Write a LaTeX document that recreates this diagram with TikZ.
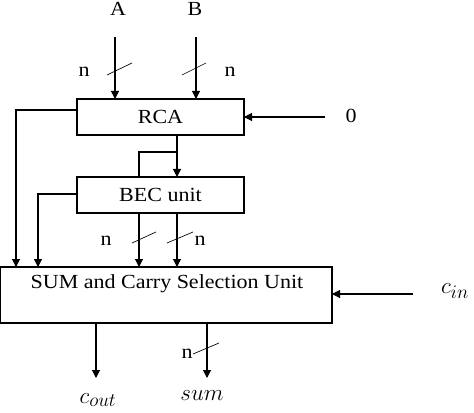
\documentclass[tikz,border=0pt]{standalone}
\usepackage{fontspec}
\setmainfont{Liberation Serif}[FakeStretch=1.1]
\DeclareMathSizes{18}{18}{14}{11}
\usetikzlibrary{arrows.meta}

\tikzset{
  block/.style={draw, line width=0.9pt, outer sep=0pt, inner sep=0pt},
  wire/.style={line width=0.8pt, -{Triangle[length=6pt,width=6pt]}},
  line/.style={line width=0.8pt},
  slash/.style={line width=0.5pt},
  sig/.style={font=\fontsize{18}{20}\selectfont}
}

\begin{document}
\begin{tikzpicture}[x=0.75pt, y=-0.75pt, font=\fontsize{15}{17}\selectfont]
    \useasboundingbox (0,0) rectangle (474,413);

    % Blocks
    \node[block, minimum width=125.25pt, minimum height=27pt] (rca) at (160.5,117) {RCA};
    \node[block, minimum width=125.25pt, minimum height=27pt] (bec) at (160.5,195) {BEC unit};
    \node[block, minimum width=249pt, minimum height=42pt] (sel) at (166,295) {};
    \node (seltxt) at (167,284) {SUM and Carry Selection Unit};

    % Inputs
    \node (labA) at (118,9) {A};
    \node (labB) at (195,9) {B};
    \node (zlab) at (351,116) {0};
    \node[sig] (cinlab) at (455,291) {$c_{in}$};
    \coordinate (inA) at (115,37);
    \coordinate (inB) at (196,37);
    \coordinate (zero) at (325,117);
    \coordinate (cin) at (413,294);
    \draw[wire] (inA) -- (rca.north -| inA);
    \draw[wire] (inB) -- (rca.north -| inB);
    \draw[wire] (zero) -- (rca.east |- zero);
    \draw[wire] (cin) -- (sel.east |- cin);

    % RCA and BEC to the selection unit
    \draw[wire] (rca.south -| 177,0) -- (bec.north -| 177,0);
    \draw[line] (177,152) -- (139,152) -- (bec.north -| 139,0);
    \draw[wire] (rca.west |- 0,110) -- (16,110) -- (sel.north -| 16,0);
    \draw[wire] (bec.west |- 0,194) -- (38,194) -- (sel.north -| 38,0);
    \foreach \x in {139,177} {
        \draw[wire] (bec.south -| \x,0) -- (sel.north -| \x,0);
    }

    % Outputs
    \coordinate (cout) at (96,378);
    \coordinate (sumout) at (207,378);
    \draw[wire] (sel.south -| cout) -- (cout);
    \draw[wire] (sel.south -| sumout) -- (sumout);
    \node[sig] (coutlab) at (98,400) {$c_{out}$};
    \node[sig] (sumlab) at (202,396) {$sum$};

    % Bus width marks
    \foreach \xa/\ya/\xb/\yb in {107/75/132/63, 182/75/206/63, 132/243/156/232,
                                 167/243/193/232, 193/354/219/343} {
        \draw[slash] (\xa,\ya) -- (\xb,\yb);
    }
    \foreach \x/\y [count=\i] in {84/72, 230/72, 106/241, 200/241, 187/354} {
        \node (n\i) at (\x,\y) {n};
    }
\end{tikzpicture}
\end{document}
